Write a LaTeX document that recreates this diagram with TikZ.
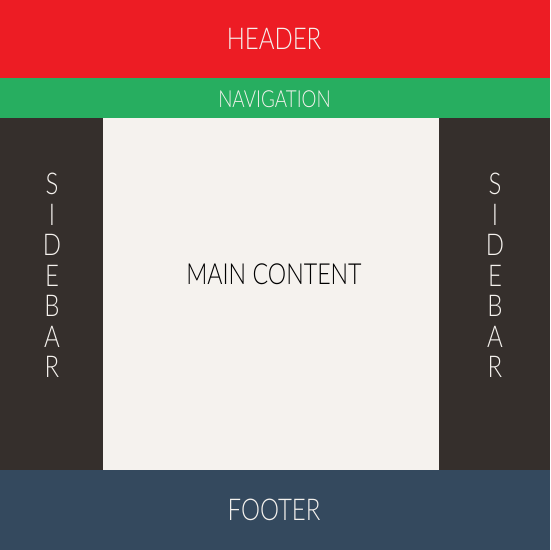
\documentclass[tikz,border=0pt]{standalone}
\usepackage{fontspec}
\setmainfont{Lato Light}[FakeStretch=0.8]
\definecolor{hdr}{HTML}{ED1C24}
\definecolor{nav}{HTML}{27AE60}
\definecolor{side}{HTML}{352F2C}
\definecolor{mainbg}{HTML}{F5F2EE}
\definecolor{foot}{HTML}{34495E}
\definecolor{txt}{HTML}{F5F2EE}
\tikzset{
  lbl/.style={inner sep=0pt, text=txt, font=\fontsize{30}{30}\selectfont},
  sidelbl/.style={inner sep=0pt, text=txt, align=center, font=\fontsize{30}{30.5}\selectfont},
}
\begin{document}
\begin{tikzpicture}[x=1pt,y=-1pt]
\useasboundingbox (0,0) rectangle (550,550);
\fill[hdr] (0,0) rectangle (550,78);
\fill[nav] (0,78) rectangle (550,118);
\fill[side] (0,118) rectangle (103,470);
\fill[mainbg] (103,118) rectangle (439,470);
\fill[side] (439,118) rectangle (550,470);
\fill[foot] (0,470) rectangle (550,550);
\node[lbl] (header) at (274,38.5) {HEADER};
\node[lbl, font=\fontsize{23.5}{23.5}\selectfont] (navigation) at (274.5,99) {NAVIGATION};
\node[lbl, text=black, font=\fontsize{29}{29}\selectfont] (content) at (274,274.5) {MAIN CONTENT};
\node[lbl] (footer) at (274,509.5) {FOOTER};
\node[sidelbl] (sidel) at (52,275.5) {S\\I\\D\\E\\B\\A\\R};
\node[sidelbl] (sider) at (495,275.5) {S\\I\\D\\E\\B\\A\\R};
\end{tikzpicture}
\end{document}
